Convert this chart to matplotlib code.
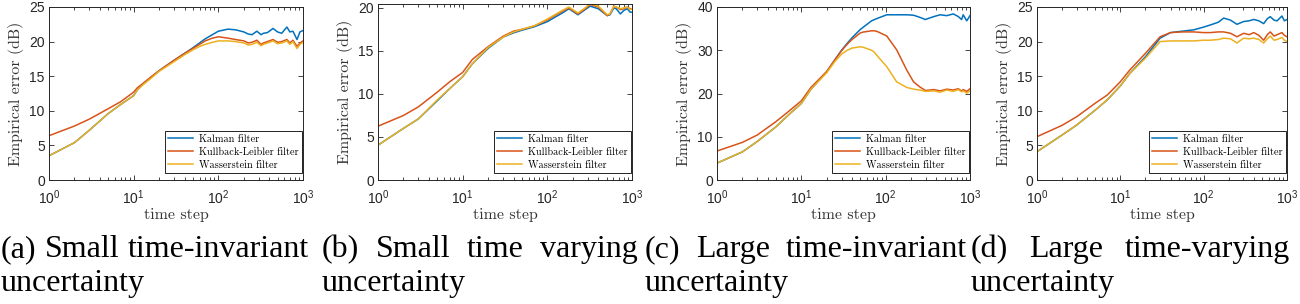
"""Empirical error of the Kalman, Kullback-Leibler and Wasserstein filters
for four uncertainty settings (log time axis), with justified sub-captions.
"""

import matplotlib

matplotlib.use("Agg")
import matplotlib.pyplot as plt
from matplotlib.ticker import FixedLocator, LogLocator, NullFormatter

# ---- data ------------------------------------------------------------------

series_names = ["Kalman filter", "Kullback-Leibler filter", "Wasserstein filter"]

# (a) small time-invariant uncertainty
t_a = [1, 2, 3, 5, 7, 10, 11, 13, 16, 20, 30, 40, 50, 60, 70, 85, 100, 130, 160, 200,
       225, 250, 285, 320, 340, 380, 443, 500, 560, 645, 700, 760, 850, 920, 1000]
kalman_a = [3.5, 5.4, 7.2, 9.6, 10.9, 12.2, 13.0, 13.9, 14.8, 15.8, 17.3, 18.3, 19.1, 19.8,
            20.4, 21.0, 21.5, 21.8, 21.7, 21.4, 21.1, 21.0, 21.5, 21.0, 21.2, 21.3, 21.9,
            21.4, 21.2, 22.1, 21.4, 21.5, 20.3, 21.4, 21.6]
kl_a = [6.4, 7.8, 8.8, 10.3, 11.3, 12.7, 13.3, 14.0, 14.9, 15.8, 17.3, 18.3, 19.0, 19.6,
        20.1, 20.5, 20.7, 20.5, 20.3, 20.1, 19.8, 19.9, 20.2, 19.6, 19.8, 20.0, 20.3,
        19.9, 20.0, 20.3, 19.8, 20.2, 19.3, 19.8, 20.1]
w_a = [3.5, 5.4, 7.2, 9.6, 10.9, 12.2, 13.0, 13.8, 14.7, 15.7, 17.1, 18.1, 18.8, 19.3,
       19.6, 19.9, 20.1, 20.1, 20.0, 19.8, 19.5, 19.6, 19.9, 19.4, 19.6, 19.8, 20.1,
       19.7, 19.8, 20.1, 19.6, 20.0, 19.0, 19.6, 19.9]

# (b) small time-varying uncertainty
t_b = [1, 2, 3, 5, 7, 10, 13, 20, 30, 40, 50, 70, 100, 150, 180, 230, 280, 320, 400,
       510, 550, 610, 650, 730, 800, 880, 950, 1000]
kalman_b = [4.05, 6.0, 7.1, 9.2, 10.6, 12.0, 13.5, 15.3, 16.6, 17.1, 17.4, 17.8, 18.4,
            19.4, 19.9, 19.2, 19.8, 20.2, 19.9, 19.1, 19.2, 20.0, 19.9, 19.3, 19.7,
            19.9, 19.5, 19.5]
kl_b = [6.25, 7.5, 8.5, 10.2, 11.4, 12.5, 14.0, 15.5, 16.7, 17.3, 17.5, 17.9, 18.6,
        19.6, 20.0, 19.3, 19.9, 20.4, 20.1, 19.1, 19.3, 20.2, 20.1, 19.8, 19.9, 20.1,
        19.9, 19.9]
w_b = [4.05, 6.0, 7.1, 9.3, 10.6, 12.0, 13.5, 15.4, 16.6, 17.2, 17.5, 17.9, 18.7,
       19.7, 20.1, 19.4, 20.0, 20.5, 20.2, 19.2, 19.3, 20.2, 20.1, 19.9, 20.0, 20.1,
       19.8, 19.9]

# (c) large time-invariant uncertainty
t_c = [1, 2, 3, 5, 7, 10, 13, 20, 25, 30, 35, 40, 50, 54, 68, 72, 78, 103, 135, 178, 214,
       255, 280, 293, 375, 442, 530, 634, 725, 795, 830, 915, 1000]
kalman_c = [3.9, 6.5, 8.9, 12.3, 15.0, 17.7, 21.0, 25.0, 27.8, 30.0, 31.6, 32.9, 34.8,
            35.3, 36.8, 37.0, 37.3, 38.2, 38.2, 38.2, 38.1, 37.6, 37.3, 37.1, 37.8, 38.2,
            38.0, 38.4, 37.8, 37.1, 38.2, 36.8, 38.0]
kl_c = [6.7, 8.7, 10.4, 13.5, 15.8, 18.3, 21.4, 25.1, 27.8, 29.9, 31.4, 32.5, 34.0, 34.2,
        34.5, 34.5, 34.4, 33.3, 30.1, 25.4, 22.7, 21.5, 21.0, 20.7, 20.9, 20.6, 21.0,
        20.8, 21.1, 20.6, 20.9, 20.5, 21.1]
w_c = [3.9, 6.5, 8.9, 12.3, 15.0, 17.7, 21.0, 24.8, 27.4, 29.1, 30.0, 30.5, 30.8, 30.7,
       30.0, 29.7, 28.9, 26.2, 22.7, 21.4, 21.0, 20.8, 20.6, 20.5, 20.6, 20.3, 20.8,
       20.5, 20.9, 20.4, 20.6, 20.1, 20.6]

# (d) large time-varying uncertainty
t_d = [1, 2, 3, 5, 7, 10, 13, 20, 30, 40, 55, 76, 100, 120, 150, 174, 210, 251, 302,
       350, 400, 460, 525, 580, 630, 700, 760, 870, 930, 1000]
kalman_d = [4.09, 6.5, 7.95, 10.1, 11.6, 13.6, 15.4, 17.8, 20.5, 21.3, 21.5, 21.7, 22.1,
            22.4, 22.8, 23.4, 23.1, 22.5, 22.9, 23.0, 23.2, 23.0, 22.6, 23.3, 23.6, 23.1,
            23.0, 23.7, 23.0, 23.2]
kl_d = [6.26, 7.9, 9.15, 11.1, 12.3, 14.2, 15.9, 18.3, 20.7, 21.3, 21.4, 21.4, 21.3,
        21.3, 21.4, 21.4, 21.2, 20.7, 21.2, 21.0, 21.3, 20.9, 20.2, 21.0, 21.4, 20.8,
        21.0, 21.3, 20.9, 20.7]
w_d = [4.09, 6.5, 7.95, 10.1, 11.6, 13.6, 15.4, 17.6, 20.0, 20.1, 20.1, 20.1, 20.2,
       20.2, 20.3, 20.5, 20.4, 19.8, 20.5, 20.4, 20.5, 20.3, 19.8, 20.4, 20.8, 20.2,
       20.3, 20.6, 20.2, 20.0]

y_ticks_a = [0, 5, 10, 15, 20, 25]
y_ticks_b = [0, 5, 10, 15, 20]
y_ticks_c = [0, 10, 20, 30, 40]
y_ticks_d = [0, 5, 10, 15, 20, 25]

caption_words = [
    ["(a)", "Small", "time-invariant"],
    ["(b)", "Small", "time", "varying"],
    ["(c)", "Large", "time-invariant"],
    ["(d)", "Large", "time-varying"],
]
caption_second_line = "uncertainty"

# ---- style -------------------------------------------------------------------

COLORS = ["#0072BD", "#D95319", "#EDB120"]  # MATLAB default line colours
AXIS_GREY = "#262626"
FIG_W, FIG_H = 1300, 304

plt.rcParams["mathtext.fontset"] = "custom"
plt.rcParams["mathtext.rm"] = "Liberation Sans"
plt.rcParams["mathtext.it"] = "Liberation Sans"
plt.rcParams["axes.unicode_minus"] = False

# axes boxes in pixels: left, top, right, bottom
panels = [
    dict(t=t_a, ys=[kalman_a, kl_a, w_a], ylim=(0, 25), yticks=y_ticks_a, box=(49, 7, 303, 180)),
    dict(t=t_b, ys=[kalman_b, kl_b, w_b], ylim=(0, 20.45), yticks=y_ticks_b, box=(378, 4, 632, 180)),
    dict(t=t_c, ys=[kalman_c, kl_c, w_c], ylim=(0, 40), yticks=y_ticks_c, box=(717, 7, 970, 180)),
    dict(t=t_d, ys=[kalman_d, kl_d, w_d], ylim=(0, 25), yticks=y_ticks_d, box=(1037, 7, 1287, 180)),
]
caption_spans = [(1, 309), (322, 638), (645, 967), (971, 1290)]


def draw_panel(fig, panel):
    left, top, right, bottom = panel["box"]
    ax = fig.add_axes([left / FIG_W, 1 - bottom / FIG_H, (right - left) / FIG_W, (bottom - top) / FIG_H])
    for y, name, color in zip(panel["ys"], series_names, COLORS):
        ax.plot(panel["t"], y, color=color, lw=1.1, label=name)

    ax.set_xscale("log")
    ax.set_xlim(1, 1000)
    ax.set_ylim(*panel["ylim"])
    ax.xaxis.set_major_locator(FixedLocator([1, 10, 100, 1000]))
    ax.set_xticklabels([r"$10^0$", r"$10^1$", r"$10^2$", r"$10^3$"])
    ax.xaxis.set_minor_locator(LogLocator(base=10, subs=range(2, 10)))
    ax.xaxis.set_minor_formatter(NullFormatter())
    ax.set_yticks(panel["yticks"])

    ax.tick_params(which="both", direction="in", top=True, right=True, colors=AXIS_GREY,
                   width=0.6, labelsize=10)
    ax.tick_params(axis="x", which="major", length=3.5, pad=6)
    ax.tick_params(axis="y", which="major", length=3.5, pad=3)
    ax.tick_params(which="minor", length=2)
    for label in ax.get_xticklabels() + ax.get_yticklabels():
        label.set_fontfamily("Liberation Sans")
    for spine in ax.spines.values():
        spine.set_color(AXIS_GREY)
        spine.set_linewidth(0.7)

    ax.set_xlabel("time step", family="cmr10", fontsize=11.5, color="#333333", labelpad=1)
    ax.set_ylabel("Empirical error (dB)", family="cmr10", fontsize=11.5, color="#333333", labelpad=4)

    leg = ax.legend(loc="lower right", bbox_to_anchor=(0.996, 0.04), borderaxespad=0,
                    prop={"family": "cmr10", "size": 7.4}, handlelength=2.4, handletextpad=0.6,
                    borderpad=0.3, labelspacing=0.35, fancybox=False, framealpha=1)
    leg.get_frame().set_edgecolor("black")
    leg.get_frame().set_linewidth(0.6)
    return ax


def draw_caption(fig, renderer, words, x0, x1):
    """Place a justified first line from x0 to x1 px, then 'uncertainty' below."""
    kw = dict(family="Liberation Serif", fontsize=23, va="baseline", ha="left")
    texts = [fig.text(0, 1 - 257 / FIG_H, w, **kw) for w in words]
    widths = [t.get_window_extent(renderer).width for t in texts]
    gap = (x1 - x0 - sum(widths)) / (len(words) - 1)
    x = x0
    for t, w in zip(texts, widths):
        t.set_x(x / FIG_W)
        x += w + gap
    fig.text(x0 / FIG_W, 1 - 291 / FIG_H, caption_second_line, **kw)


def main():
    fig = plt.figure(figsize=(FIG_W / 100, FIG_H / 100), dpi=100)
    for panel in panels:
        draw_panel(fig, panel)

    renderer = fig.canvas.get_renderer()
    for words, (x0, x1) in zip(caption_words, caption_spans):
        draw_caption(fig, renderer, words, x0, x1)

    fig.savefig("out.png", dpi=100)
    plt.close(fig)


if __name__ == "__main__":
    main()
